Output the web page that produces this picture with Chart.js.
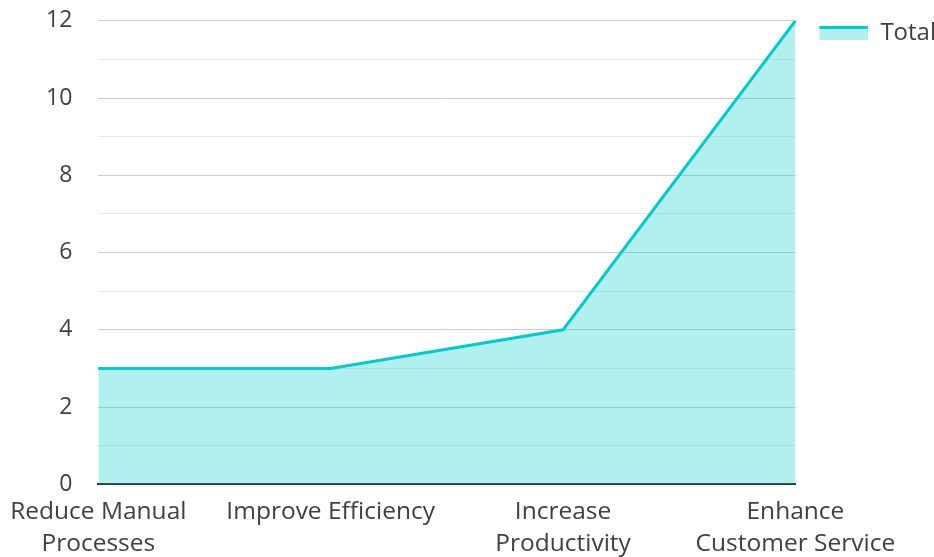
<!DOCTYPE html>
<html>
<head>
<meta charset="utf-8">
<script src="https://cdn.jsdelivr.net/npm/chart.js@4/dist/chart.umd.min.js"></script>
<style>
  html, body { margin: 0; padding: 0; background: #fff; }
  #wrap { width: 934px; height: 557px; }
</style>
</head>
<body>
<div id="wrap"><canvas id="lineChart"></canvas></div>
<script>
// dados do gráfico
const categorias = [
    ['Reduce Manual', 'Processes'],
    'Improve Efficiency',
    ['Increase', 'Productivity'],
    ['Enhance', 'Customer Service']
];
const valoresTotal = [3, 3, 4, 12];
const rotulosY = [0, 2, 4, 6, 8, 10, 12];

const corLinha = 'rgb(0, 204, 204)';
const corArea = 'rgba(0, 204, 204, 0.3)';

// símbolo da legenda: linha com área embaixo (margem transparente à esquerda)
const simbolo = document.createElement('canvas');
simbolo.width = 63;
simbolo.height = 14;
const sctx = simbolo.getContext('2d');
sctx.fillStyle = corArea;
sctx.fillRect(14, 2, 49, 12);
sctx.fillStyle = corLinha;
sctx.fillRect(14, 0, 49, 3);

Chart.defaults.font.family = '"Open Sans", "Noto Sans", sans-serif';
Chart.defaults.font.size = 24;
Chart.defaults.color = '#404040';

const ctx = document.getElementById('lineChart').getContext('2d');
new Chart(ctx, {
    type: 'line',
    data: {
        labels: categorias,
        datasets: [{
            label: 'Total',
            data: valoresTotal,
            borderColor: corLinha,
            backgroundColor: corArea,
            borderWidth: 3,
            fill: 'origin',
            tension: 0,
            pointRadius: 0,
            pointHoverRadius: 0
        }]
    },
    options: {
        responsive: true,
        maintainAspectRatio: false,
        animation: false,
        layout: { padding: { left: 39, top: 11, right: -12, bottom: -7 } },
        plugins: {
            tooltip: { enabled: false },
            legend: {
                position: 'right',
                align: 'start',
                labels: {
                    usePointStyle: true,
                    pointStyle: simbolo,
                    pointStyleWidth: 63,
                    boxWidth: 63,
                    boxHeight: 14,
                    padding: 10,
                    font: { size: 24 }
                }
            }
        },
        scales: {
            x: {
                offset: false,
                grid: { display: false, tickLength: 8 },
                border: { color: '#333', width: 2 },
                ticks: { maxRotation: 0, autoSkip: false, padding: 4, font: { size: 24.5, lineHeight: 1.3 } }
            },
            y: {
                min: 0,
                max: 12,
                border: { display: false },
                grid: {
                    tickLength: 19,
                    tickColor: 'transparent',
                    color: c => (c.tick && c.tick.value % 2 !== 0) ? '#e8e8e8' : '#cccccc',
                    lineWidth: 1
                },
                ticks: {
                    stepSize: 1,
                    padding: 7,
                    font: { size: 23 },
                    callback: v => rotulosY.includes(v) ? v : ''
                }
            }
        }
    }
});
</script>
</body>
</html>
